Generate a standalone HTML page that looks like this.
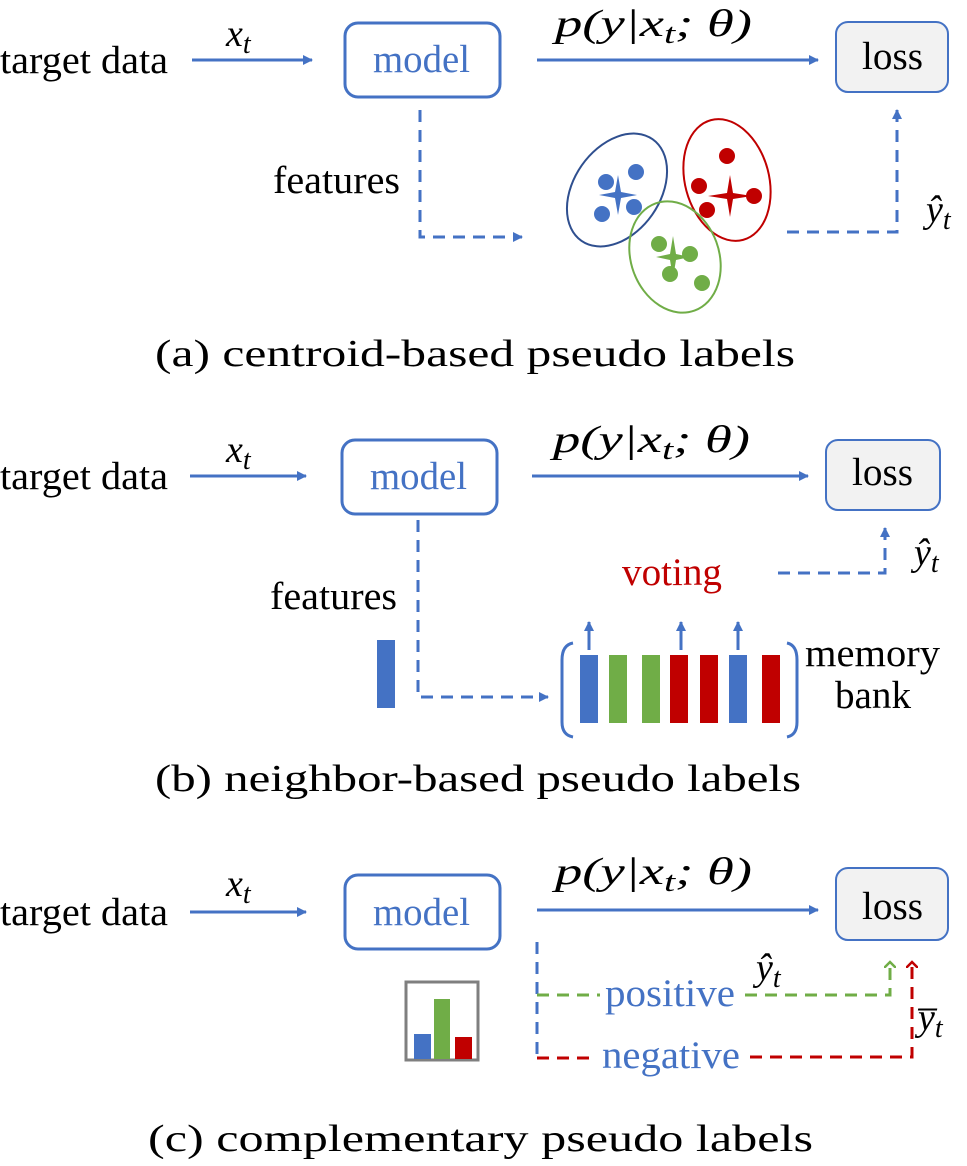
<!DOCTYPE html>
<html><head><meta charset="utf-8"><style>
html,body{margin:0;padding:0;background:#fff;}
svg{display:block;}
.t{font-family:"Liberation Serif",serif;font-size:39px;fill:#000;}
.m{font-family:"Liberation Serif",serif;font-style:italic;font-size:38px;fill:#000;}
.b{fill:#4472C4;}
.cap{font-family:"Liberation Serif",serif;font-size:38px;fill:#000;}
</style></head><body>
<svg width="967" height="1166" viewBox="0 0 967 1166" xmlns="http://www.w3.org/2000/svg">
<defs>
<marker id="ab" markerWidth="10" markerHeight="10" refX="9" refY="5" orient="auto" markerUnits="userSpaceOnUse"><path d="M0,0 L10,5 L0,10 z" fill="#4472C4"/></marker>
<marker id="ag" markerWidth="12" markerHeight="12" refX="6" refY="6" orient="auto" markerUnits="userSpaceOnUse"><path d="M0,0 L6,6 L0,12" fill="none" stroke="#70AD47" stroke-width="2.5"/></marker>
<marker id="ar" markerWidth="12" markerHeight="12" refX="6" refY="6" orient="auto" markerUnits="userSpaceOnUse"><path d="M0,0 L6,6 L0,12" fill="none" stroke="#C00000" stroke-width="2.5"/></marker>
</defs>
<g stroke="#4472C4" stroke-width="3" fill="none">
<line x1="192" y1="60" x2="312" y2="60" marker-end="url(#ab)"/>
<rect x="345" y="23" width="155" height="74" rx="13"/>
<line x1="537" y1="60" x2="818" y2="60" marker-end="url(#ab)"/>
<rect x="836" y="22" width="112" height="70" rx="12" fill="#F2F2F2" stroke-width="2"/>
<polyline points="420,110 420,237 522,237" stroke-dasharray="12,8" marker-end="url(#ab)"/>
<polyline points="787,232 897,232 897,110" stroke-dasharray="12,8" marker-end="url(#ab)"/>
<line x1="190" y1="476" x2="306" y2="476" marker-end="url(#ab)"/>
<rect x="342" y="440" width="155" height="74" rx="13"/>
<line x1="532" y1="476" x2="808" y2="476" marker-end="url(#ab)"/>
<rect x="826" y="440" width="114" height="70" rx="12" fill="#F2F2F2" stroke-width="2"/>
<polyline points="418,520 418,697 548,697" stroke-dasharray="12,8" marker-end="url(#ab)"/>
<polyline points="778,573 885,573 885,528" stroke-dasharray="12,8" marker-end="url(#ab)"/>
<path d="M573,643 Q562,645 562,660 L562,722 Q562,735 573,737"/>
<path d="M787,643 Q797,645 797,660 L797,722 Q797,735 787,737"/>
<line x1="589" y1="650" x2="589" y2="622" marker-end="url(#ab)"/>
<line x1="681" y1="650" x2="681" y2="622" marker-end="url(#ab)"/>
<line x1="738" y1="650" x2="738" y2="622" marker-end="url(#ab)"/>
<line x1="190" y1="912" x2="306" y2="912" marker-end="url(#ab)"/>
<rect x="345" y="875" width="155" height="74" rx="13"/>
<line x1="537" y1="910" x2="818" y2="910" marker-end="url(#ab)"/>
<rect x="836" y="868" width="112" height="72" rx="12" fill="#F2F2F2" stroke-width="2"/>
<line x1="537" y1="942" x2="537" y2="1058" stroke-dasharray="12,8"/>
</g>
<g fill="none" stroke-width="2">
<ellipse cx="617" cy="190" rx="43" ry="62" transform="rotate(35 617 190)" stroke="#2F4F8F"/>
<ellipse cx="727" cy="180" rx="42" ry="62" transform="rotate(-15 727 180)" stroke="#C00000"/>
<ellipse cx="675" cy="257" rx="44" ry="57" transform="rotate(-20 675 257)" stroke="#70AD47"/>
</g>
<g fill="#4472C4"><circle cx="606" cy="182" r="8"/><circle cx="636" cy="172" r="8"/><circle cx="634" cy="207" r="8"/><circle cx="602" cy="214" r="8"/><path d="M618,175 L621,192 L637,195 L621,198 L618,215 L615,198 L599,195 L615,192 z"/></g>
<g fill="#C00000"><circle cx="727" cy="156" r="8"/><circle cx="699" cy="186" r="8"/><circle cx="754" cy="196" r="8"/><circle cx="707" cy="210" r="8"/><path d="M730,175 L733,193 L752,196 L733,199 L730,217 L727,199 L708,196 L727,193 z"/></g>
<g fill="#70AD47"><circle cx="659" cy="244" r="8"/><circle cx="690" cy="254" r="8"/><circle cx="670" cy="274" r="8"/><circle cx="702" cy="283" r="8"/><path d="M673,236 L676,254 L690,257 L676,260 L673,278 L670,260 L656,257 L670,254 z"/></g>
<rect x="377" y="640" width="18" height="68" fill="#4472C4"/>
<rect x="580" y="655" width="18" height="68" fill="#4472C4"/>
<rect x="609" y="655" width="18" height="68" fill="#70AD47"/>
<rect x="642" y="655" width="18" height="68" fill="#70AD47"/>
<rect x="670" y="655" width="18" height="68" fill="#C00000"/>
<rect x="700" y="655" width="18" height="68" fill="#C00000"/>
<rect x="729" y="655" width="18" height="68" fill="#4472C4"/>
<rect x="762" y="655" width="18" height="68" fill="#C00000"/>
<rect x="406" y="982" width="72" height="78" fill="#fff" stroke="#7F7F7F" stroke-width="3"/>
<rect x="414" y="1034" width="17" height="25" fill="#4472C4"/>
<rect x="434" y="999" width="16" height="60" fill="#70AD47"/>
<rect x="455" y="1037" width="17" height="22" fill="#C00000"/>
<g fill="none" stroke-width="3" stroke-dasharray="12,8">
<line x1="537" y1="995" x2="600" y2="995" stroke="#70AD47"/>
<polyline points="745,995 890,995 890,962" stroke="#70AD47" marker-end="url(#ag)"/>
<line x1="537" y1="1058" x2="595" y2="1058" stroke="#C00000"/>
<polyline points="750,1057 912,1057 912,962" stroke="#C00000" marker-end="url(#ar)"/>
</g>
<!-- text a -->
<text class="t" x="0" y="73" textLength="168" lengthAdjust="spacingAndGlyphs">target data</text>
<text class="m" x="226" y="46">x<tspan font-size="28" dy="7">t</tspan></text>
<text class="t b" x="373" y="72" textLength="97" lengthAdjust="spacingAndGlyphs">model</text>
<text class="m" x="555" y="36" textLength="197" lengthAdjust="spacingAndGlyphs">p(y|x<tspan font-size="28" dy="7">t</tspan><tspan dy="-7">; θ)</tspan></text>
<text class="t" x="862" y="69" textLength="61" lengthAdjust="spacingAndGlyphs">loss</text>
<text class="t" x="273" y="193" textLength="127" lengthAdjust="spacingAndGlyphs">features</text>
<text class="m" x="926" y="222">ŷ<tspan font-size="28" dy="7">t</tspan></text>
<text class="cap" x="155" y="366" textLength="640" lengthAdjust="spacingAndGlyphs">(a) centroid-based pseudo labels</text>
<!-- text b -->
<text class="t" x="0" y="489" textLength="168" lengthAdjust="spacingAndGlyphs">target data</text>
<text class="m" x="226" y="462">x<tspan font-size="28" dy="7">t</tspan></text>
<text class="t b" x="370" y="489" textLength="97" lengthAdjust="spacingAndGlyphs">model</text>
<text class="m" x="553" y="452" textLength="197" lengthAdjust="spacingAndGlyphs">p(y|x<tspan font-size="28" dy="7">t</tspan><tspan dy="-7">; θ)</tspan></text>
<text class="t" x="852" y="485" textLength="61" lengthAdjust="spacingAndGlyphs">loss</text>
<text class="t" x="270" y="609" textLength="127" lengthAdjust="spacingAndGlyphs">features</text>
<text class="t" x="622" y="585" style="fill:#C00000" textLength="100" lengthAdjust="spacingAndGlyphs">voting</text>
<text class="m" x="914" y="565">ŷ<tspan font-size="28" dy="7">t</tspan></text>
<text class="t" x="805" y="666" textLength="135" lengthAdjust="spacingAndGlyphs">memory</text>
<text class="t" x="835" y="708" textLength="76" lengthAdjust="spacingAndGlyphs">bank</text>
<text class="cap" x="155" y="791" textLength="646" lengthAdjust="spacingAndGlyphs">(b) neighbor-based pseudo labels</text>
<!-- text c -->
<text class="t" x="0" y="925" textLength="168" lengthAdjust="spacingAndGlyphs">target data</text>
<text class="m" x="226" y="896">x<tspan font-size="28" dy="7">t</tspan></text>
<text class="t b" x="373" y="925" textLength="97" lengthAdjust="spacingAndGlyphs">model</text>
<text class="m" x="555" y="884" textLength="197" lengthAdjust="spacingAndGlyphs">p(y|x<tspan font-size="28" dy="7">t</tspan><tspan dy="-7">; θ)</tspan></text>
<text class="t" x="862" y="919" textLength="61" lengthAdjust="spacingAndGlyphs">loss</text>
<text class="t b" x="605" y="1006" textLength="130" lengthAdjust="spacingAndGlyphs">positive</text>
<text class="t b" x="602" y="1068" textLength="138" lengthAdjust="spacingAndGlyphs">negative</text>
<text class="m" x="756" y="980">ŷ<tspan font-size="28" dy="7">t</tspan></text>
<text class="m" x="918" y="1030">y̅<tspan font-size="28" dy="7">t</tspan></text>
<text class="cap" x="148" y="1151" textLength="665" lengthAdjust="spacingAndGlyphs">(c) complementary pseudo labels</text>
</svg>
</body></html>
